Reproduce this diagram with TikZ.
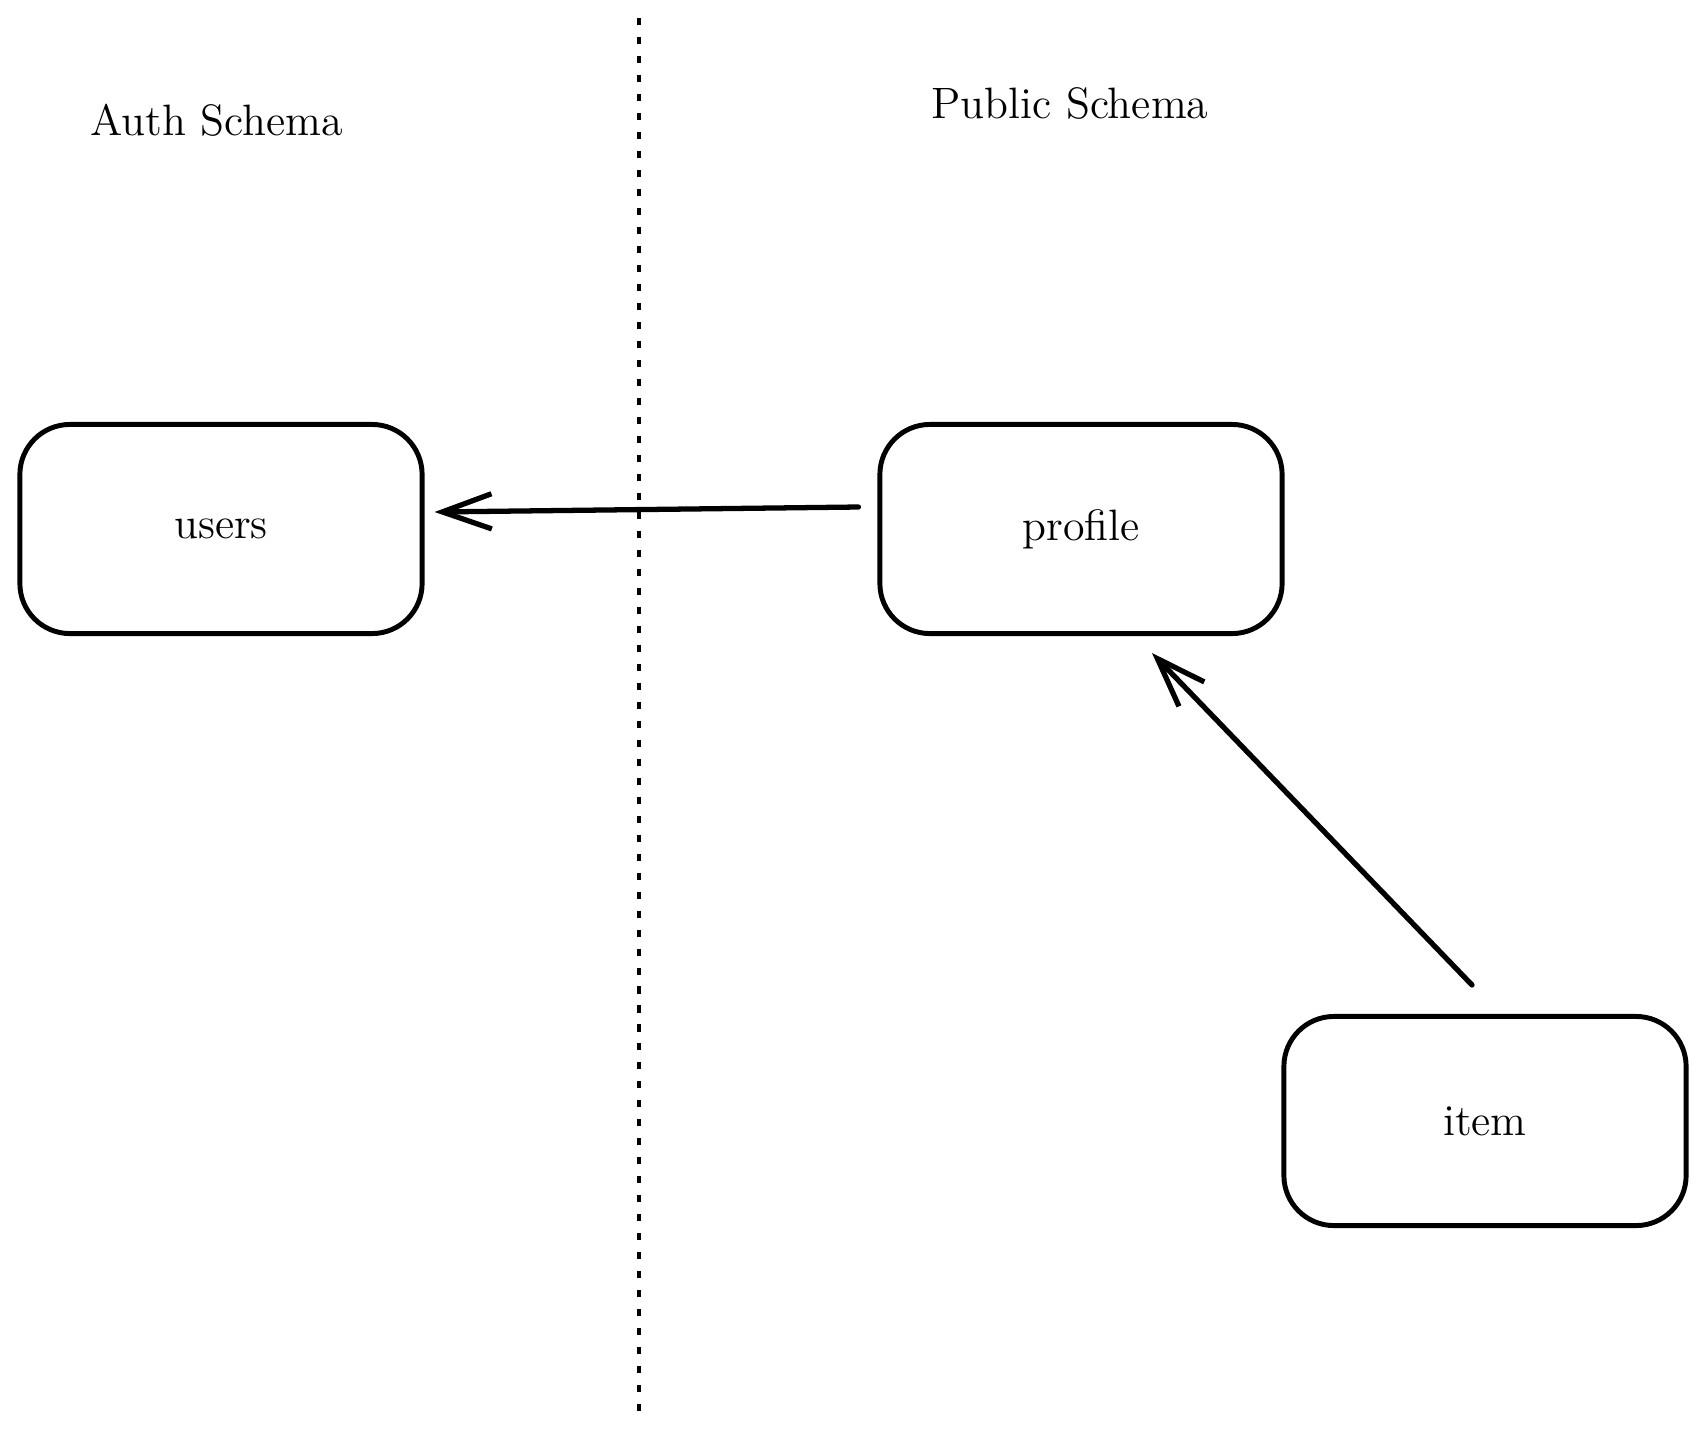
\documentclass[tikz,border=0pt]{standalone}
\usetikzlibrary{arrows.meta}

\begin{document}
\begin{tikzpicture}[x=0.01cm, y=-0.01cm, font=\fontsize{12.5}{15}\selectfont,
	table/.style={draw, line width=1.4pt, rounded corners=5mm, minimum width=4.02cm, minimum height=2.09cm},
	link/.style={line width=1.5pt, line cap=round, -{Straight Barb[length=14pt,width=10pt,line width=1.5pt]}}]
	\useasboundingbox (0,0) rectangle (1706,1442);
	\draw[line width=1.4pt, dash pattern=on 2pt off 3.4pt] (639,18) -- (639,1414);
	\node (authlabel) at (217,120) {Auth Schema};
	\node (publiclabel) at (1070,103) {Public Schema};
	\node[table] (users) at (221,529) {users};
	\node[table] (profile) at (1081,529) {profile};
	\node[table] (item) at (1485,1121) {item};
	\draw[link] ([shift={(-19,-22)}]profile.west) -- ([shift={(10,-17)}]users.east);
	\draw[link] ([shift={(-13,-29)}]item.north) -- ([shift={(71,17)}]profile.south);
\end{tikzpicture}
\end{document}
